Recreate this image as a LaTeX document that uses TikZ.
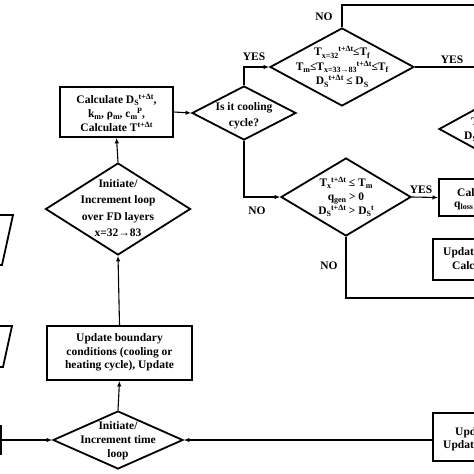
\documentclass[tikz,border=0pt]{standalone}
\usepackage{fontspec}
\setmainfont{Liberation Serif}
\usetikzlibrary{shapes.geometric,arrows.meta}
\newcommand{\subx}[1]{\raisebox{-0.45ex}{\fontsize{8}{8}\selectfont #1}}
\newcommand{\supx}[1]{\raisebox{0.75ex}{\fontsize{8}{8}\selectfont #1}}
\begin{document}
\begin{tikzpicture}[x=1pt,y=-1pt,
  font=\fontsize{11.5}{14}\selectfont\bfseries,
  box/.style={draw, line width=1.8pt, rectangle, inner sep=0pt},
  dia/.style={draw, line width=1.8pt, diamond, inner sep=0pt},
  txt/.style={align=center, inner sep=0pt},
  ln/.style={line width=1.1pt},
  arr/.style={ln, -{Latex[length=5.5pt,width=4.5pt]}},
  lbl/.style={inner sep=0pt},
  frag/.style={inner sep=0pt, anchor=west}]
\useasboundingbox (0,0) rectangle (474,474);
\clip (0,0) rectangle (474,474);

% main column
\node[box, minimum width=113pt, minimum height=50pt] (calc) at (116.5,112) {};
\node[txt] (calct) at (116.5,113) {Calculate D\subx{S}\supx{t+Δt},\\ k\subx{m}, ρ\subx{m}, c\subx{m}\supx{P},\\ Calculate T\supx{t+Δt}};

\node[dia, minimum width=104pt, minimum height=54pt] (cool) at (244,113) {};
\node[txt, font=\fontsize{11.5}{16}\selectfont\bfseries] (coolt) at (244,116) {Is it cooling\\cycle?};

\node[dia, minimum width=144pt, minimum height=78pt] (d2) at (342,67) {};
\node[txt, font=\fontsize{11.5}{14.5}\selectfont\bfseries] (d2t) at (342,67) {T\subx{x=32}\supx{t+Δt}≤T\subx{f}\\ T\subx{m}≤T\subx{x=33→83}\supx{t+Δt}≤T\subx{f}\\ D\subx{S}\supx{t+Δt} ≤ D\subx{S}};

\node[dia, minimum width=130pt, minimum height=78pt] (d3) at (346,197) {};
\node[txt, font=\fontsize{11.5}{14}\selectfont\bfseries] (d3t) at (346,197) {T\subx{x}\supx{t+Δt} ≤ T\subx{m}\\ q\subx{gen} > 0\\ D\subx{S}\supx{t+Δt} > D\subx{S}\supx{t}};

\node[dia, minimum width=142pt, minimum height=78pt] (d4) at (510,129) {};
\node[frag] (d4a) at (471,122) {T\subx{x}\supx{t+Δt} > T\subx{f}};
\node[frag] (d4b) at (464,136) {D\subx{S}\supx{t+Δt} > D\subx{S}};

\node[box, minimum width=120pt, minimum height=37pt, anchor=west] (calq) at (438,197.5) {};
\node[frag] (calqa) at (457,193) {Calculate};
\node[frag] (calqb) at (454,206) {q\subx{loss}};

\node[box, minimum width=120pt, minimum height=41pt, anchor=west] (upd2) at (432,259.5) {};
\node[frag] (upd2a) at (443,253) {Update};
\node[frag] (upd2b) at (452,266) {Calculate};

\node[box, minimum width=120pt, minimum height=48pt, anchor=west] (br) at (432,437) {};
\node[frag] (bra) at (455,433) {Update};
\node[frag] (brb) at (443,446) {Update};

\node[dia, minimum width=130pt, minimum height=58pt] (td) at (118,440) {};
\node[txt, font=\fontsize{11.5}{14}\selectfont\bfseries] (tdt) at (118,441) {Initiate/\\Increment time\\loop};

\node[box, minimum width=145pt, minimum height=54pt] (ub) at (119.5,353) {};
\node[txt, font=\fontsize{11.5}{13.5}\selectfont\bfseries] (ubt) at (119.5,352.5) {Update boundary\\conditions (cooling or\\heating cycle), Update};

\node[dia, minimum width=145pt, minimum height=92pt] (fd) at (118,209) {};
\node[txt, font=\fontsize{11.5}{16.5}\selectfont\bfseries] (fdt) at (118,208) {Initiate/\\Increment loop\\over FD layers\\x=32→83};

\node[box, minimum width=80pt, minimum height=28pt, anchor=east] (bl) at (2,440) {};

% left partial parallelograms
\draw[line width=1.8pt] (-79,215) -- (13,215) -- (2,265) -- (-90,265) -- cycle;
\draw[line width=1.8pt] (-81,326) -- (12,326) -- (3,367) -- (-90,367) -- cycle;

% free ends
\coordinate (c1) at (500,5);
\coordinate (c2) at (500,67);
\coordinate (c3) at (500,298);

% connectors
\draw[arr] (calc.east) -- (cool.west);
\draw[arr] (cool.north) |- (d2.west);
\draw[ln] (d2.north) |- (c1);
\draw[ln] (d2.east) -- (c2);
\draw[arr] (cool.south) |- (d3.west);
\draw[arr] (d3.east) -- (calq.west);
\draw[ln] (d3.south) |- (c3);
\draw[arr] (bl.east) -- (td.west);
\draw[arr] (br.west |- td.east) -- (td.east);
\draw[arr] (td.north) -- (ub.south);
\draw[arr] (ub.north) -- (fd.south);
\draw[arr] (fd.north) -- (calc.south);

% labels
\node[lbl] (l1) at (254,57) {YES};
\node[lbl] (l2) at (324,17) {NO};
\node[lbl] (l3) at (452,60) {YES};
\node[lbl] (l4) at (257,211) {NO};
\node[lbl] (l5) at (421,190) {YES};
\node[lbl] (l6) at (329,266) {NO};
\end{tikzpicture}
\end{document}
